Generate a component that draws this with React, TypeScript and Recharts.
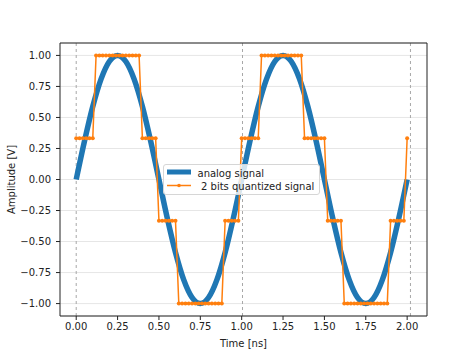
import React from "react";
import {
  LineChart,
  Line,
  XAxis,
  YAxis,
  CartesianGrid,
  ReferenceLine,
  Legend,
} from "recharts";

// analog signal, read every 0.05 ns
const analogTime = [
  0, 0.05, 0.1, 0.15, 0.2, 0.25, 0.3, 0.35, 0.4, 0.45, 0.5, 0.55, 0.6, 0.65,
  0.7, 0.75, 0.8, 0.85, 0.9, 0.95, 1, 1.05, 1.1, 1.15, 1.2, 1.25, 1.3, 1.35,
  1.4, 1.45, 1.5, 1.55, 1.6, 1.65, 1.7, 1.75, 1.8, 1.85, 1.9, 1.95, 2,
];
const analogSignal = [
  0, 0.309, 0.588, 0.809, 0.951, 1, 0.951, 0.809, 0.588, 0.309, 0, -0.309,
  -0.588, -0.809, -0.951, -1, -0.951, -0.809, -0.588, -0.309, 0, 0.309, 0.588,
  0.809, 0.951, 1, 0.951, 0.809, 0.588, 0.309, 0, -0.309, -0.588, -0.809,
  -0.951, -1, -0.951, -0.809, -0.588, -0.309, 0,
];

// quantized samples, every 0.02 ns
const sampleTime = [
  0, 0.02, 0.04, 0.06, 0.08, 0.1, 0.12, 0.14, 0.16, 0.18, 0.2, 0.22, 0.24,
  0.26, 0.28, 0.3, 0.32, 0.34, 0.36, 0.38, 0.4, 0.42, 0.44, 0.46, 0.48, 0.5,
  0.52, 0.54, 0.56, 0.58, 0.6, 0.62, 0.64, 0.66, 0.68, 0.7, 0.72, 0.74, 0.76,
  0.78, 0.8, 0.82, 0.84, 0.86, 0.88, 0.9, 0.92, 0.94, 0.96, 0.98, 1, 1.02,
  1.04, 1.06, 1.08, 1.1, 1.12, 1.14, 1.16, 1.18, 1.2, 1.22, 1.24, 1.26, 1.28,
  1.3, 1.32, 1.34, 1.36, 1.38, 1.4, 1.42, 1.44, 1.46, 1.48, 1.5, 1.52, 1.54,
  1.56, 1.58, 1.6, 1.62, 1.64, 1.66, 1.68, 1.7, 1.72, 1.74, 1.76, 1.78, 1.8,
  1.82, 1.84, 1.86, 1.88, 1.9, 1.92, 1.94, 1.96, 1.98, 2,
];
const quantizedSignal = [
  0.333, 0.333, 0.333, 0.333, 0.333, 0.333,
  1, 1, 1, 1, 1, 1, 1, 1, 1, 1, 1, 1, 1, 1,
  0.333, 0.333, 0.333, 0.333, 0.333,
  -0.333, -0.333, -0.333, -0.333, -0.333, -0.333,
  -1, -1, -1, -1, -1, -1, -1, -1, -1, -1, -1, -1, -1, -1,
  -0.333, -0.333, -0.333, -0.333, -0.333,
  0.333, 0.333, 0.333, 0.333, 0.333, 0.333,
  1, 1, 1, 1, 1, 1, 1, 1, 1, 1, 1, 1, 1,
  0.333, 0.333, 0.333, 0.333, 0.333, 0.333, 0.333,
  -0.333, -0.333, -0.333, -0.333, -0.333,
  -1, -1, -1, -1, -1, -1, -1, -1, -1, -1, -1, -1, -1, -1,
  -0.333, -0.333, -0.333, -0.333, -0.333,
  0.333,
];

const xTicks = [0, 0.25, 0.5, 0.75, 1, 1.25, 1.5, 1.75, 2];
const yTicks = [-1, -0.75, -0.5, -0.25, 0, 0.25, 0.5, 0.75, 1];
const periodMarks = [0, 1.005, 2.02];

const analogData = analogTime.map((t, i) => ({ t, v: analogSignal[i] }));
const quantData = sampleTime.map((t, i) => ({ t, q: quantizedSignal[i] }));

const BLUE = "#1f77b4";
const ORANGE = "#ff7f0e";
const FONT = "DejaVu Sans, sans-serif";
const fmt = (v: number) => v.toFixed(2).replace("-", "\u2212");

function LegendBox() {
  return (
    <div
      style={{
        width: 157,
        height: 31,
        border: "1px solid #d6d6d6",
        borderRadius: 3,
        background: "rgba(255,255,255,0.8)",
        boxSizing: "border-box",
      }}
    >
      <svg width={157} height={31} style={{ display: "block" }}>
        <line x1={3} x2={27} y1={7} y2={7} stroke={BLUE} strokeWidth={5} />
        <line x1={3} x2={27} y1={20.5} y2={20.5} stroke={ORANGE} strokeWidth={1.5} />
        <circle cx={15} cy={20.5} r={1.8} fill={ORANGE} />
        <g fontFamily={FONT} fontSize={10} fill="#222">
          <text x={33.5} y={11.5}>analog signal</text>
          <text x={37} y={25}>2 bits quantized signal</text>
        </g>
      </svg>
    </div>
  );
}

export default function App() {
  return (
    <div style={{ position: "absolute", left: 0, top: 0, background: "#fff" }}>
      <LineChart
        width={474}
        height={355}
        margin={{ top: 42, right: 46, bottom: 0, left: 0 }}
      >
        <CartesianGrid vertical={false} stroke="#e6e6e6" />
        <XAxis
          dataKey="t"
          type="number"
          domain={[-0.098, 2.12]}
          ticks={xTicks}
          allowDataOverflow
          tickFormatter={fmt}
          height={39}
          tickSize={4}
          tickMargin={3}
          stroke="#222"
          tick={{ fill: "#222", fontSize: 10, fontFamily: FONT }}
          label={{
            value: "Time [ns]",
            position: "insideBottom",
            offset: 8,
            fill: "#222",
            fontSize: 10,
            fontFamily: FONT,
          }}
        />
        <XAxis
          xAxisId="top"
          orientation="top"
          type="number"
          domain={[-0.098, 2.12]}
          height={1}
          tick={false}
          tickLine={false}
          axisLine={{ stroke: "#222" }}
        />
        <YAxis
          type="number"
          domain={[-1.1, 1.1]}
          ticks={yTicks}
          allowDataOverflow
          tickFormatter={fmt}
          width={60}
          tickSize={4}
          tickMargin={5}
          stroke="#222"
          tick={{ fill: "#222", fontSize: 10, fontFamily: FONT }}
          label={{
            value: "Amplitude [V]",
            angle: -90,
            position: "center",
            dx: -19,
            fill: "#222",
            fontSize: 10,
            fontFamily: FONT,
          }}
        />
        <YAxis
          yAxisId="right"
          orientation="right"
          type="number"
          domain={[-1.1, 1.1]}
          width={1}
          tick={false}
          tickLine={false}
          axisLine={{ stroke: "#222" }}
        />
        {periodMarks.map((x) => (
          <ReferenceLine
            key={x}
            x={x}
            stroke="#a8a8a8"
            strokeDasharray="3 3"
            strokeWidth={1}
          />
        ))}
        <Line
          data={analogData}
          dataKey="v"
          type="monotone"
          stroke={BLUE}
          strokeWidth={5.5}
          dot={false}
          isAnimationActive={false}
        />
        <Line
          data={quantData}
          dataKey="q"
          type="linear"
          stroke={ORANGE}
          strokeWidth={1.5}
          dot={{ r: 2, fill: ORANGE, stroke: "none" }}
          isAnimationActive={false}
        />
        <Legend
          align="center"
          verticalAlign="middle"
          content={() => <LegendBox />}
          wrapperStyle={{ left: 163, top: 164, width: 157, height: 31 }}
        />
      </LineChart>
    </div>
  );
}
